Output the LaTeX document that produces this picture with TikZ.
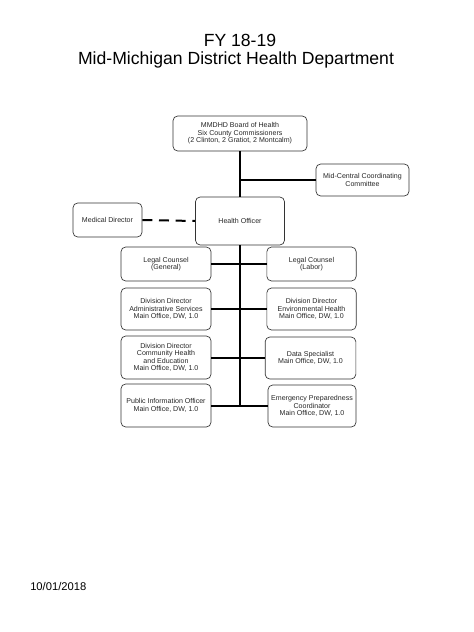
\documentclass[tikz,border=0pt]{standalone}
\usepackage{fontspec}
\setmainfont{Liberation Sans}
\begin{document}
\begin{tikzpicture}[x=0.75pt,y=-0.75pt,
  orgbox/.style={draw=black!80,line width=0.5pt,rounded corners=3.5pt,align=center,inner sep=0pt,
    font=\fontsize{5.3}{5.6}\selectfont,text=black!85},
  conn/.style={line width=1.5pt,black},
  titletext/.style={font=\fontsize{13.2}{15}\selectfont,anchor=base,inner sep=0pt}]
\useasboundingbox (0,0) rectangle (474,632);
\node[titletext] (t1) at (240,46.6) {FY 18-19};
\node[titletext] (t2) at (236,64.5) {Mid-Michigan District Health Department};
\node[anchor=base west,inner sep=0pt,font=\fontsize{8.4}{10}\selectfont] (date) at (30,590) {10/01/2018};

\node[orgbox,minimum width=100.5pt,minimum height=26.25pt] (board) at (240,133.5) {MMDHD Board of Health\\Six County Commissioners\\(2 Clinton, 2 Gratiot, 2 Montcalm)};
\node[orgbox,minimum width=69.75pt,minimum height=24pt] (mc) at (362.5,180) {Mid-Central Coordinating\\Committee};
\node[orgbox,minimum width=66.75pt,minimum height=36pt] (ho) at (240,221) {Health Officer};
\node[orgbox,minimum width=51.75pt,minimum height=25.5pt] (md) at (107.5,220) {Medical Director};

\node[orgbox,minimum width=67.5pt,minimum height=25.5pt] (lcg) at (166,264) {Legal Counsel\\(General)};
\node[orgbox,minimum width=67pt,minimum height=25.5pt] (lcl) at (311.5,264) {Legal Counsel\\(Labor)};
\node[orgbox,minimum width=67.5pt,minimum height=31.5pt] (dda) at (166,309) {Division Director\\Administrative Services\\Main Office, DW, 1.0};
\node[orgbox,minimum width=67pt,minimum height=31.5pt] (dde) at (311.5,309) {Division Director\\Environmental Health\\Main Office, DW, 1.0};
\node[orgbox,minimum width=67.5pt,minimum height=32.25pt] (ddc) at (166,357.5) {Division Director\\Community Health\\and Education\\Main Office, DW, 1.0};
\node[orgbox,minimum width=68pt,minimum height=31.5pt] (ds) at (310.5,358) {Data Specialist\\Main Office, DW, 1.0};
\node[orgbox,minimum width=67.5pt,minimum height=32.25pt] (pio) at (166,405.5) {Public Information Officer\\Main Office, DW, 1.0};
\node[orgbox,minimum width=66pt,minimum height=31.5pt] (ep) at (312,406) {Emergency Preparedness\\Coordinator\\Main Office, DW, 1.0};

\draw[conn] (board.south) -- (ho.north);
\draw[conn] (board.south |- mc.west) -- (mc.west);
\draw[conn,dash pattern=on 7.5pt off 5pt] (md.east) -- (ho.west);
\draw[conn] (ho.south) -- (ho.south |- pio.east);
\draw[conn] (lcg.east) -- (lcg.east -| lcl.west);
\draw[conn] (dda.east) -- (dda.east -| dde.west);
\draw[conn] (ddc.east) -- (ddc.east -| ds.west);
\draw[conn] (pio.east) -- (pio.east -| ep.west);
\end{tikzpicture}
\end{document}
